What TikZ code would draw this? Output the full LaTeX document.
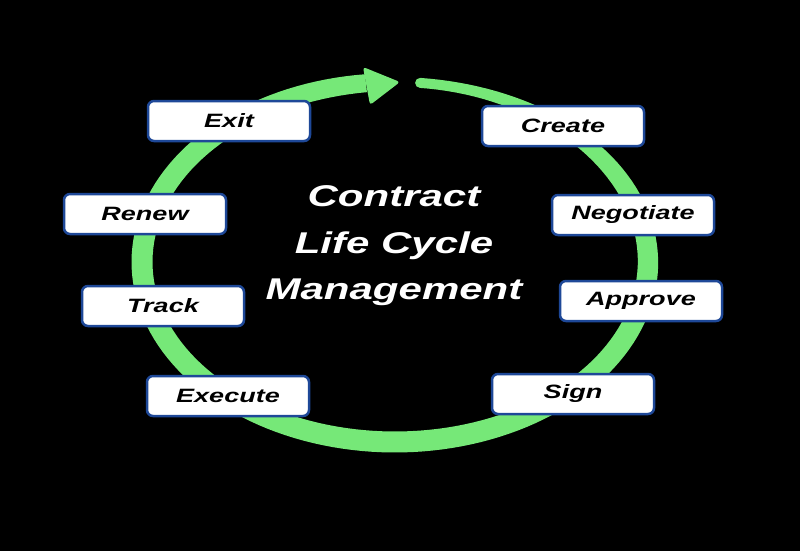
\documentclass[tikz,border=0pt]{standalone}
\usepackage{fontspec}
\newfontfamily\labelfont[FakeStretch=1.4]{Liberation Sans}
\definecolor{ringgreen}{RGB}{118,232,120}
\definecolor{boxblue}{RGB}{30,72,152}
\tikzstyle{phase}=[rectangle, draw=boxblue, line width=2.5pt, fill=white,
    rounded corners=6pt, minimum width=162pt, minimum height=40pt, inner sep=0pt,
    font=\labelfont\bfseries\itshape\fontsize{19.3}{22}\selectfont]
\newcommand{\phase}{\node[phase]}

\begin{document}
\begin{tikzpicture}[x=1pt, y=-1pt
    ,declare function={ringw(\s)=10+11*(1-exp(-min((\s/50)^2,12)))-3*(max(0,\s-264)/84)^2;}
    ,title/.style={text=white, align=center,
        font=\labelfont\bfseries\itshape\fontsize{30}{46.5}\selectfont}
]
\fill[black] (0,0) rectangle (800,551);
\useasboundingbox (0,0) rectangle (800,551);
% ring, thin at the start and wider further round
\fill[ringgreen]
    plot[domain=84.3:-263.4, samples=160]
        ({395+(253+ringw(84.3-\x)/2)*cos(\x)}, {262-(180+ringw(84.3-\x)/2)*sin(\x)})
    -- plot[domain=-263.4:84.3, samples=160]
        ({395+(253-ringw(84.3-\x)/2)*cos(\x)}, {262-(180-ringw(84.3-\x)/2)*sin(\x)})
    -- cycle;
\fill[ringgreen] ({395+253*cos(84.3)}, {262-180*sin(84.3)}) circle (5);
\coordinate (tip) at (400,82);
\coordinate (headtop) at (363,67);
\coordinate (headbot) at (370,105);
\fill[ringgreen, rounded corners=3pt] (tip) -- (headtop) -- (headbot) -- cycle;
% title
\node[title] (title) at (394,246) {Contract\\Life Cycle\\Management};
% stages
\phase (exit) at (229,121) {Exit};
\phase (create) at (563,126) {Create};
\phase (renew) at (145,214) {Renew};
\phase (negotiate) at (633,215) {Negotiate};
\phase (track) at (163,306) {Track};
\phase (approve) at (641,301) {Approve};
\phase (execute) at (228,396) {Execute};
\phase (sign) at (573,394) {Sign};
\end{tikzpicture}
\end{document}
